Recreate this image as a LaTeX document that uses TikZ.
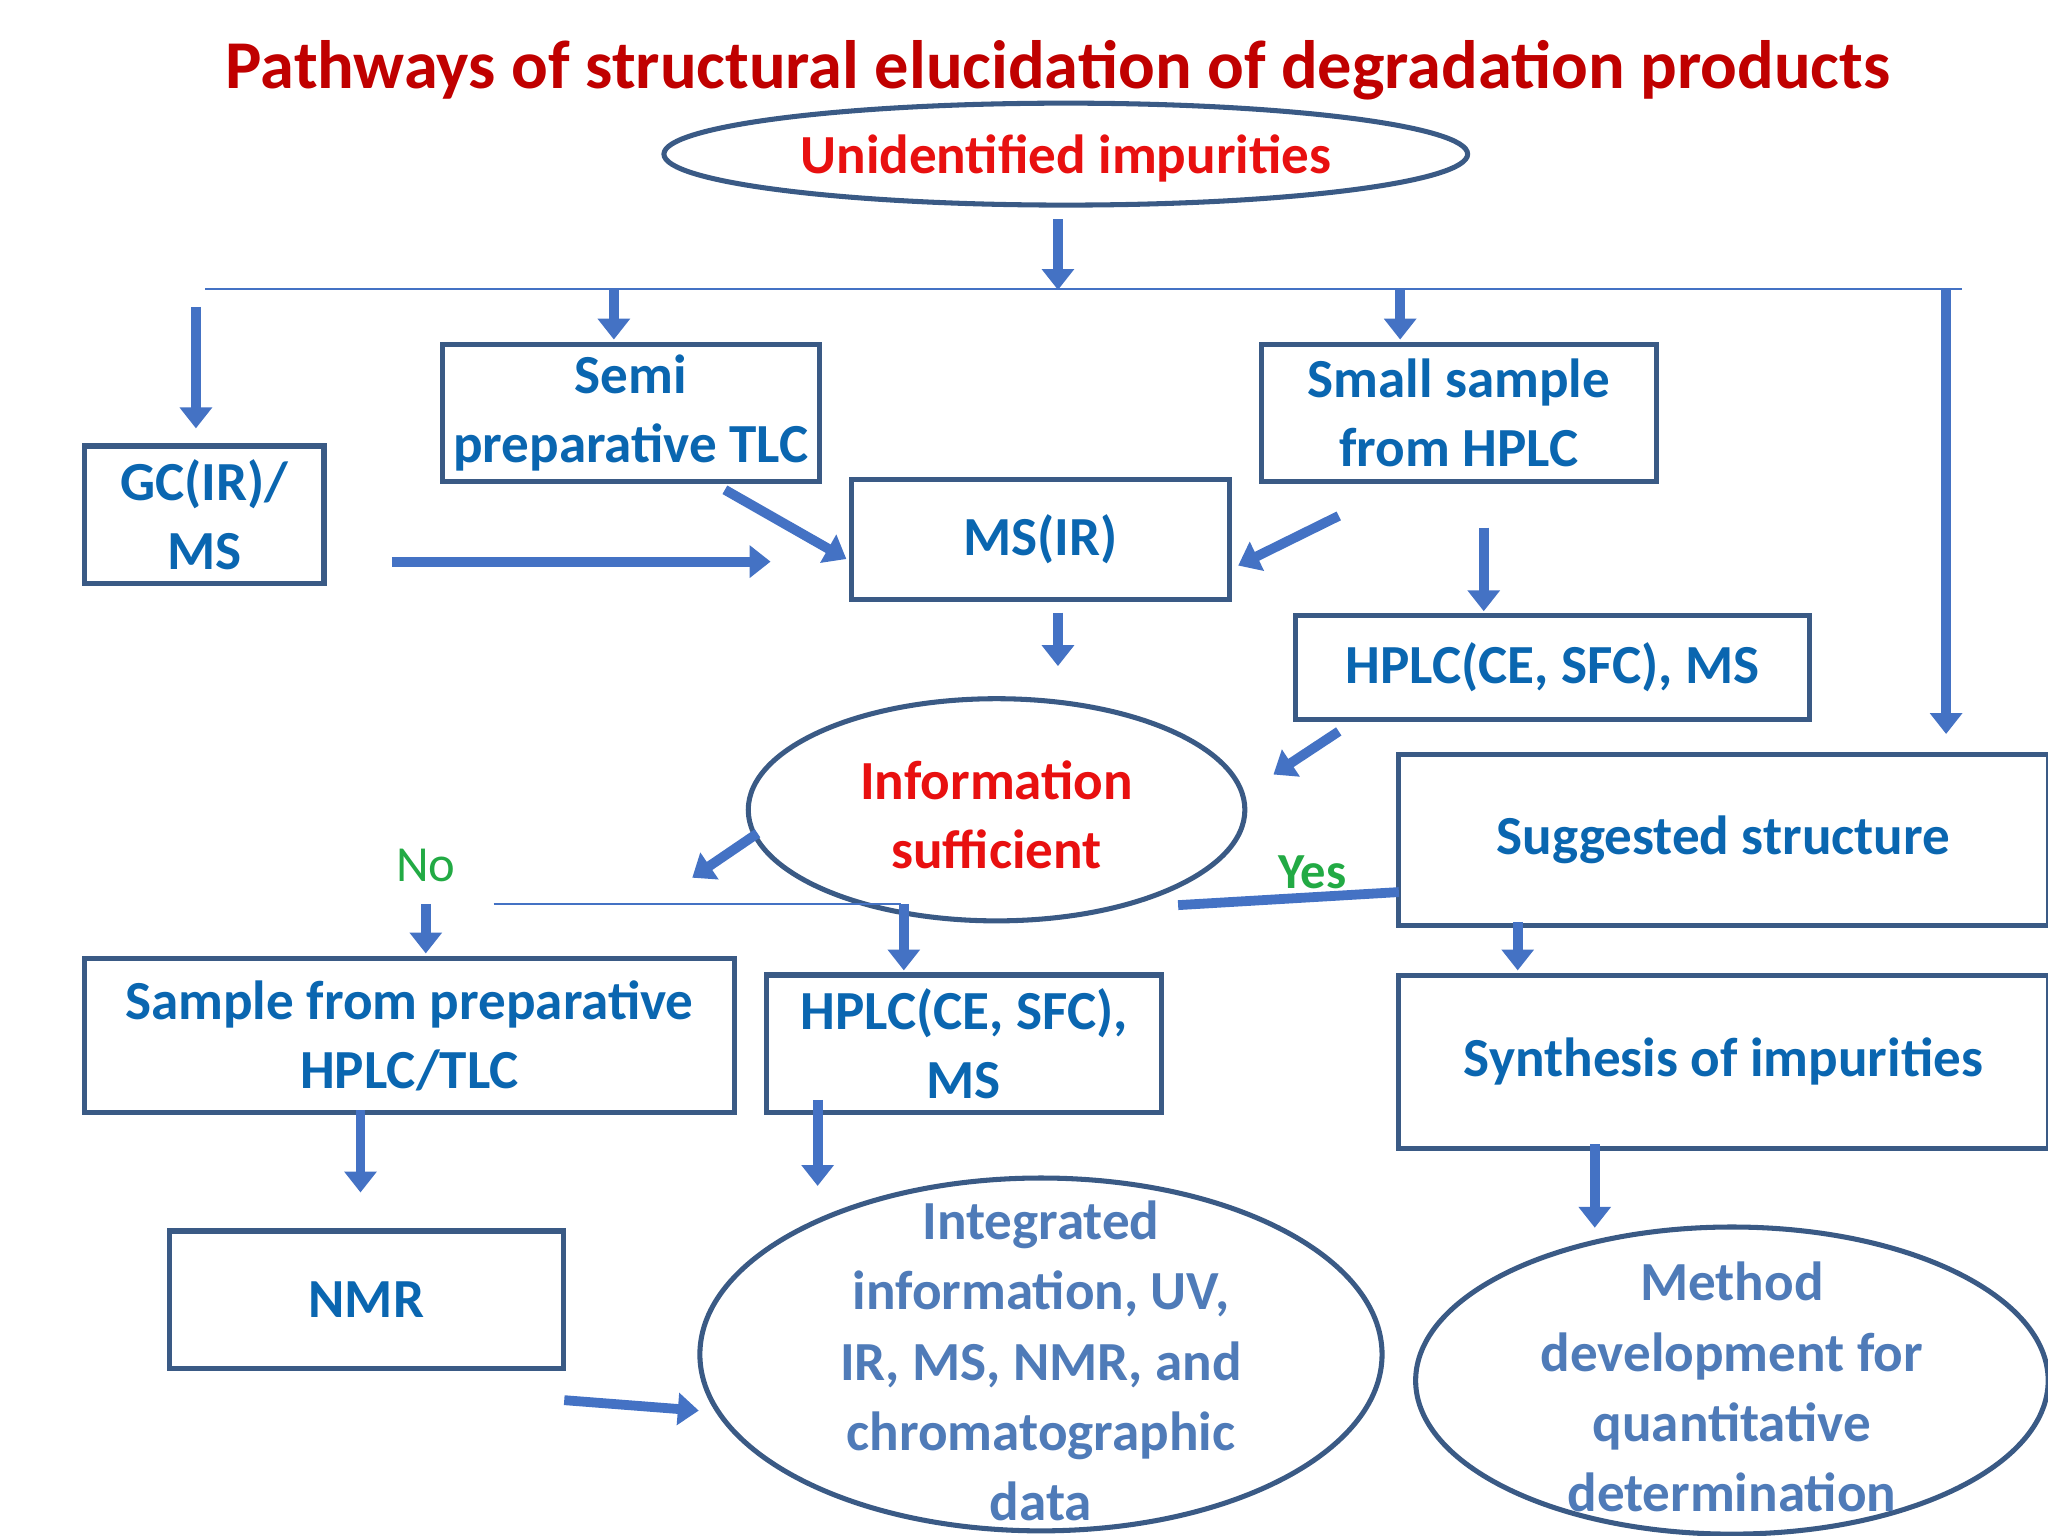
\documentclass[tikz,border=0pt]{standalone}
\usepackage{fontspec}
\setmainfont{Carlito}
\usetikzlibrary{arrows.meta,shapes.geometric}
\definecolor{tred}{HTML}{C00000}
\definecolor{rtxt}{HTML}{E81010}
\definecolor{btxt}{HTML}{0A66B0}
\definecolor{etxt}{HTML}{4F7BB8}
\definecolor{bord}{HTML}{3A5A85}
\definecolor{arr}{HTML}{4472C4}
\definecolor{grn}{HTML}{22AA44}
\begin{document}
\begin{tikzpicture}[x=0.01cm,y=-0.01cm,
 box/.style={draw=bord,line width=1.1pt,inner sep=0pt,font=\bfseries\fontsize{12}{15}\selectfont,text=btxt,align=center},
 ell/.style={draw=bord,line width=1.1pt,ellipse,inner sep=0pt},
 etx/.style={align=center,font=\bfseries\fontsize{12}{15}\selectfont},
 barrow/.style={draw=arr,line width=0.075cm,-{Triangle[length=0.16cm,width=0.24cm]}},
 thin/.style={draw=arr,line width=0.5pt}]
\useasboundingbox (0,0) rectangle (1568,1176);
\clip (0,0) rectangle (1568,1176);
\node[font=\bfseries\fontsize{14.9}{17}\selectfont,text=tred] (title) at (810,54) {Pathways of structural elucidation of degradation products};
\node[ell,minimum width=6.15cm,minimum height=0.78cm] (unid) at (816,118) {};
\node[etx,text=rtxt] (unidt) at (816,121) {Unidentified impurities};
\node[box,minimum width=1.83cm,minimum height=1.05cm] (gc) at (156.5,394) {GC(IR)/\\MS};
\node[box,minimum width=2.88cm,minimum height=1.05cm] (semi) at (483,316) {Semi\\preparative TLC};
\node[box,minimum width=3.02cm,minimum height=1.05cm] (small) at (1117,316) {Small sample\\from HPLC};
\node[box,minimum width=2.89cm,minimum height=0.92cm] (ms) at (796.5,413) {MS(IR)};
\node[box,minimum width=3.93cm,minimum height=0.79cm] (hplc1) at (1188.5,511) {HPLC(CE, SFC), MS};
\node[ell,minimum width=3.8cm,minimum height=1.7cm] (info) at (763,620) {};
\node[etx,text=rtxt] (infot) at (763,624) {Information\\sufficient};
\node[box,minimum width=4.97cm,minimum height=1.31cm] (sugg) at (1319.5,643) {Suggested structure};
\node[box,minimum width=4.97cm,minimum height=1.32cm] (syn) at (1319.5,813) {Synthesis of impurities};
\node[box,minimum width=4.97cm,minimum height=1.18cm] (samp) at (313.5,793) {Sample from preparative\\HPLC/TLC};
\node[box,minimum width=3.02cm,minimum height=1.05cm] (hplc2) at (738,799) {HPLC(CE, SFC),\\MS};
\node[box,minimum width=3.01cm,minimum height=1.05cm] (nmr) at (280.5,995) {NMR};
\node[ell,minimum width=5.22cm,minimum height=2.7cm] (integ) at (797,1037) {};
\node[etx,text=etxt,font=\bfseries\fontsize{12}{15.3}\selectfont] (integt) at (797,1042) {Integrated\\information, UV,\\IR, MS, NMR, and\\chromatographic\\data};
\node[ell,minimum width=4.84cm,minimum height=2.35cm] (meth) at (1326,1057) {};
\node[etx,text=etxt,font=\bfseries\fontsize{12}{15.3}\selectfont] (metht) at (1326,1062) {Method\\development for\\quantitative\\determination};
\node[text=grn,font=\fontsize{11}{13}\selectfont] (no) at (326,663) {No};
\node[text=grn,font=\bfseries\fontsize{11}{13}\selectfont] (yes) at (1005,668) {Yes};
\coordinate (h1) at (157,221); \coordinate (h2) at (1502,221);
\coordinate (n1) at (378,692); \coordinate (n2) at (690,692);
\draw[thin] (h1) -- (h2);
\draw[thin] (n1) -- (n2);
\foreach \a/\b/\c/\d in {810/168/810/222, 150/235/150/328, 470/221/470/260, 1072/221/1072/260, 1490/221/1490/562,
 300/430/590/430, 555/375/648/428, 1025/395/948/433, 1136/404/1136/468, 810/469/810/510,
 1025/560/975/593, 580/638/530/672, 326/692/326/730, 692/692/692/743, 1162/706/1162/743,
 276/850/276/913, 626/842/626/908, 432/1072/535/1080, 1221/876/1221/940}{
 \coordinate (s) at (\a,\b); \coordinate (e) at (\c,\d);
 \draw[barrow] (s) -- (e);}
\coordinate (y1) at (1071,683); \coordinate (y2) at (902,693);
\draw[draw=arr,line width=0.075cm] (y1) -- (y2);
\end{tikzpicture}
\end{document}
